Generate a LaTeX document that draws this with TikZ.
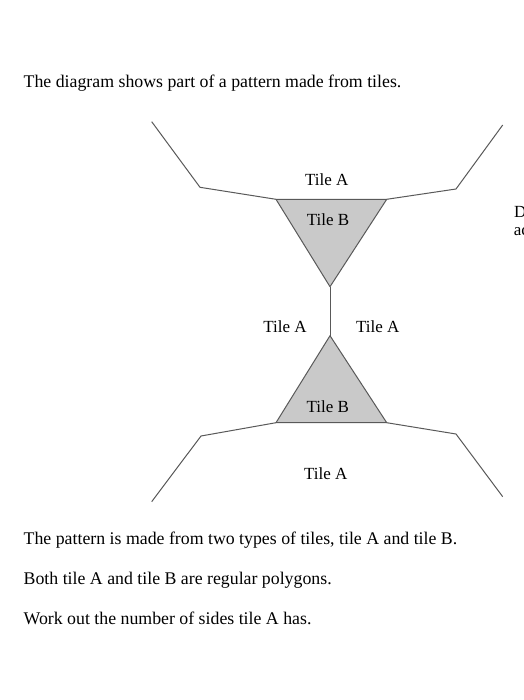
\documentclass[tikz,border=0pt]{standalone}
\usepackage{fontspec}
\setmainfont{Liberation Serif}
\tikzset{
  edge/.style={draw=black!65, line width=1pt, line join=round},
  tileB/.style={edge, fill=black!21},
  tilelabel/.style={inner sep=0pt, font=\fontsize{17}{19}\selectfont},
  textline/.style={anchor=base west, inner sep=0pt, font=\fontsize{17.8}{20}\selectfont}
}
\begin{document}
\begin{tikzpicture}[x=1pt,y=-1pt]
		\useasboundingbox[fill=white] (0,0) rectangle (523,700);
		\node[textline] (intro) at (23.5,87.5) {The diagram shows part of a pattern made from tiles.};
		% upper tile B and the edges of tile A
		\coordinate (ul) at (276,199.3);
		\coordinate (ur) at (386.7,199.3);
		\coordinate (ua) at (330,286.7);
		\coordinate (la) at (330,335.7);
		\coordinate (ll) at (276,422.7);
		\coordinate (lr) at (386.7,422.7);
		\draw[tileB] (ul)--(ur)--(ua)--cycle;
		\draw[tileB] (ll)--(lr)--(la)--cycle;
		\draw[edge] (ua)--(la);
		\draw[edge] (151.7,121.7)--(200,187.3)--(ul);
		\draw[edge] (ur)--(456,189)--(502.7,125);
		\draw[edge] (151.7,501.7)--(201,436)--(ll);
		\draw[edge] (lr)--(456,434)--(502.7,496.7);
		\node[tilelabel] (topA) at (326.7,180) {Tile A};
		\node[tilelabel] (upB) at (328,220) {Tile B};
		\node[tilelabel] (leftA) at (285,327) {Tile A};
		\node[tilelabel] (rightA) at (377.7,327) {Tile A};
		\node[tilelabel] (lowB) at (327.7,406.7) {Tile B};
		\node[tilelabel] (botA) at (325.7,474) {Tile A};
		% text cut off at the right edge
		\node[textline, font=\fontsize{17}{19}\selectfont] (cutD) at (514,217.7) {D};
		\node[textline, font=\fontsize{17}{19}\selectfont] (cuta) at (513.7,236) {ac};
		\node[textline] (pattern) at (23.5,544.5) {The pattern is made from two types of tiles, tile A and tile B.};
		\node[textline] (regular) at (23.5,584) {Both tile A and tile B are regular polygons.};
		\node[textline] (task) at (23.5,624) {Work out the number of sides tile A has.};
\end{tikzpicture}
\end{document}
